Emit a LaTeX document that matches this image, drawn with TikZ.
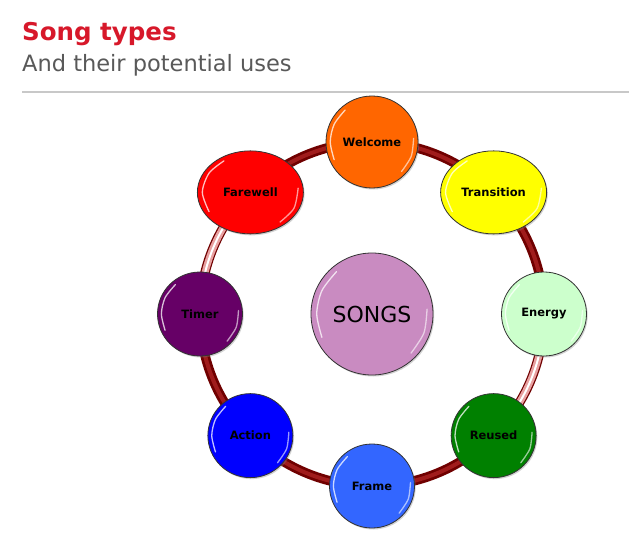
\documentclass[tikz,border=0pt]{standalone}
\usepackage{fontspec}
\setmainfont{DejaVu Sans}
\usetikzlibrary{shapes.geometric,shadows,calc}
\definecolor{titlered}{RGB}{215,24,42}
\definecolor{subgray}{RGB}{89,89,89}
\definecolor{rulegray}{RGB}{200,200,200}
\definecolor{ringdark}{RGB}{112,0,0}
\definecolor{ringmid}{RGB}{160,28,28}
\definecolor{ringpink}{RGB}{232,160,160}
\definecolor{cWelcome}{RGB}{255,102,0}
\definecolor{cTransition}{RGB}{255,255,0}
\definecolor{cEnergy}{RGB}{204,255,204}
\definecolor{cReused}{RGB}{0,128,0}
\definecolor{cFrame}{RGB}{51,102,255}
\definecolor{cAction}{RGB}{0,0,255}
\definecolor{cTimer}{RGB}{102,0,102}
\definecolor{cFarewell}{RGB}{255,0,0}
\definecolor{cSongs}{RGB}{201,139,193}
\begin{document}
\begin{tikzpicture}[x=1pt,y=-1pt,
  songnode/.style={ellipse, draw=black!80, line width=0.8pt, inner sep=0pt,
    minimum width=85pt, minimum height=84pt,
    font=\fontsize{11.5}{13}\selectfont\bfseries, text=black,
    drop shadow={opacity=0.35, shadow xshift=1.2pt, shadow yshift=-1.5pt}},
  centernode/.style={circle, draw=black!80, line width=0.8pt, inner sep=0pt,
    minimum size=122pt, fill=cSongs,
    font=\fontsize{22}{26}\selectfont, text=black,
    drop shadow={opacity=0.35, shadow xshift=1.2pt, shadow yshift=-1.5pt}},
  gloss/.style={white, opacity=0.75, line width=1.3pt, line cap=round}
]
\useasboundingbox (0,0) rectangle (630,543);
\fill[white] (0,0) rectangle (630,543);
% header
\node[anchor=base west, inner sep=0pt, text=titlered, font=\fontsize{24.5}{28}\selectfont\bfseries] (title) at (22,41) {Song types};
\node[anchor=base west, inner sep=0pt, text=subgray, font=\fontsize{22.5}{26}\selectfont] (subtitle) at (22,72) {And their potential uses};
\coordinate (ruleL) at (22,92);
\coordinate (ruleR) at (629,92);
\draw[rulegray, line width=2pt] (ruleL) -- (ruleR);
% ring
\coordinate (C) at (372,314);
\draw[ringdark, line width=9.5pt] (C) circle[radius=172];
\draw[ringmid, line width=4pt] (C) circle[radius=172];
\draw[ringpink, line width=7pt] ([shift={(180:172)}]C) arc[start angle=180, end angle=225, radius=172];
\draw[white, line width=2pt] ([shift={(180:172)}]C) arc[start angle=180, end angle=225, radius=172];
\draw[ringpink, line width=7pt] ([shift={(0:172)}]C) arc[start angle=0, end angle=45, radius=172];
\draw[white, line width=2pt] ([shift={(0:172)}]C) arc[start angle=0, end angle=45, radius=172];
% nodes
\node[centernode] (songs) at (C) {SONGS};
\node[songnode, fill=cWelcome, minimum width=92pt, minimum height=92pt] (welcome) at ([shift={(270:172)}]C) {Welcome};
\node[songnode, fill=cTransition, minimum width=106pt, minimum height=83pt] (transition) at ([shift={(315:172)}]C) {Transition};
\node[songnode, fill=cEnergy] (energy) at ([shift={(0:172)}]C) {Energy};
\node[songnode, fill=cReused] (reused) at ([shift={(45:172)}]C) {Reused};
\node[songnode, fill=cFrame] (frame) at ([shift={(90:172)}]C) {Frame};
\node[songnode, fill=cAction] (action) at ([shift={(135:172)}]C) {Action};
\node[songnode, fill=cTimer] (timer) at ([shift={(180:172)}]C) {Timer};
\node[songnode, fill=cFarewell, minimum width=106pt, minimum height=83pt] (farewell) at ([shift={(225:172)}]C) {Farewell};
% gloss highlights
\foreach \n in {songs,welcome,transition,energy,reused,frame,action,timer,farewell}{
  \draw[gloss] plot[smooth] coordinates {($(\n.center)!0.9!(\n.205)$) ($(\n.center)!0.9!(\n.180)$) ($(\n.center)!0.9!(\n.155)$) ($(\n.center)!0.9!(\n.130)$)};
  \draw[gloss, opacity=0.6] plot[smooth] coordinates {($(\n.center)!0.9!(\n.5)$) ($(\n.center)!0.9!(\n.-20)$) ($(\n.center)!0.9!(\n.-45)$)};
}
\end{tikzpicture}
\end{document}
